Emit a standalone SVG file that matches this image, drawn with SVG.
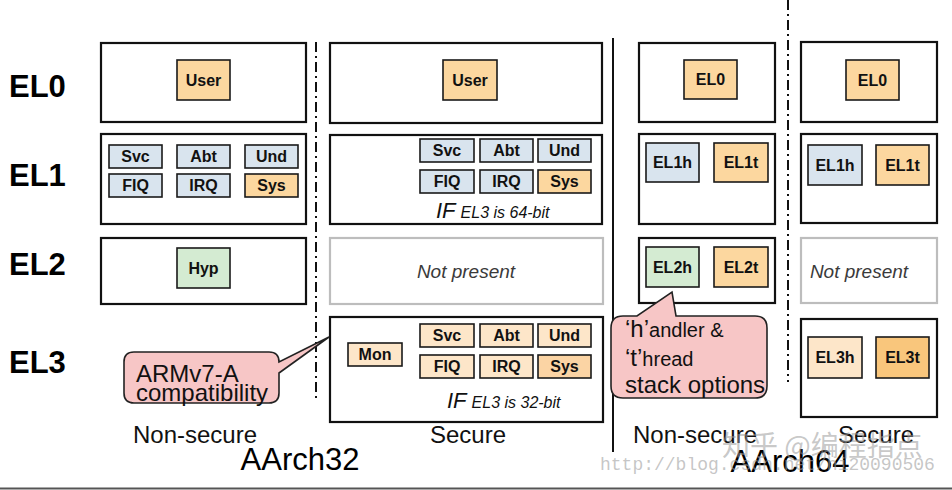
<svg xmlns="http://www.w3.org/2000/svg" width="952" height="490" viewBox="0 0 952 490">
<style>
.bg{fill:#fff}
.box{fill:#fff;stroke:#111;stroke-width:2.2}
.gbox{fill:#fff;stroke:#bdbdbd;stroke-width:2.2}
.m{stroke:#1a1a1a;stroke-width:1.6}
.or{fill:#fcd79f}
.bl{fill:#d9e4ee}
.gr{fill:#d4ebd2}
.pe{fill:#fde6c9}
.or2{fill:#f9c67c}
.lt{font-family:"Liberation Sans",Arial,sans-serif;font-weight:bold;font-size:16px;fill:#111;text-anchor:middle}
.el{font-family:"Liberation Sans",Arial,sans-serif;font-weight:bold;font-size:31px;fill:#000}
.np{font-family:"Liberation Sans",Arial,sans-serif;font-style:italic;font-size:19px;fill:#3a3a3a;text-anchor:middle}
.it{font-family:"Liberation Sans",Arial,sans-serif;font-style:italic;fill:#111}
.cap{font-family:"Liberation Sans",Arial,sans-serif;font-size:24px;fill:#111;text-anchor:middle}
.arch{font-family:"Liberation Sans",Arial,sans-serif;font-size:31px;fill:#000;text-anchor:middle}
.call{fill:#f7c6c6;stroke:#222;stroke-width:1.6}
.ct{font-family:"Liberation Sans",Arial,sans-serif;fill:#111}
.dd{stroke:#111;stroke-width:2;stroke-dasharray:10 4 2 4;fill:none}
.sl{stroke:#111;stroke-width:2;fill:none}
.wm{font-family:"Noto Sans CJK SC",sans-serif;font-size:28px;fill:#9a9a9a;fill-opacity:0.55}
.url{font-family:"Liberation Mono",monospace;font-size:18px;fill:#a0a0a0;fill-opacity:0.6}
</style>
<rect class="bg" x="0" y="0" width="952" height="490"/>

<g id="dividers">
<line class="dd" x1="316" y1="42" x2="316" y2="398"/>
<line class="sl" x1="613" y1="38" x2="613" y2="452"/>
<line class="dd" x1="788" y1="0" x2="788" y2="382"/>
<line x1="0" y1="488.5" x2="952" y2="488.5" stroke="#555" stroke-width="2"/>
</g>

<g id="level-labels">
<text class="el" x="9" y="97">EL0</text>
<text class="el" x="9" y="186">EL1</text>
<text class="el" x="9" y="275">EL2</text>
<text class="el" x="9" y="373">EL3</text>
</g>

<!-- AArch32 Non-secure -->
<g id="a32ns-el0">
<rect class="box" x="101" y="43" width="205" height="79"/>
<rect class="m or" x="177" y="60" width="53" height="40"/>
<text class="lt" x="203.5" y="86">User</text>
</g>
<g id="a32ns-el1">
<rect class="box" x="101" y="134" width="205" height="90"/>
<rect class="m bl" x="109" y="145" width="53" height="23"/>
<text class="lt" x="135.5" y="162">Svc</text>
<rect class="m bl" x="177" y="145" width="53" height="23"/>
<text class="lt" x="203.5" y="162">Abt</text>
<rect class="m bl" x="245" y="145" width="53" height="23"/>
<text class="lt" x="271.5" y="162">Und</text>
<rect class="m bl" x="109" y="174" width="53" height="23"/>
<text class="lt" x="135.5" y="191">FIQ</text>
<rect class="m bl" x="177" y="174" width="53" height="23"/>
<text class="lt" x="203.5" y="191">IRQ</text>
<rect class="m or" x="245" y="174" width="53" height="23"/>
<text class="lt" x="271.5" y="191">Sys</text>
</g>
<g id="a32ns-el2">
<rect class="box" x="101" y="238" width="205" height="66"/>
<rect class="m gr" x="177" y="248" width="53" height="40"/>
<text class="lt" x="203.5" y="274">Hyp</text>
</g>

<!-- AArch32 Secure -->
<g id="a32s-el0">
<rect class="box" x="330" y="43" width="272" height="80"/>
<rect class="m or" x="443" y="60" width="54" height="40"/>
<text class="lt" x="470" y="86">User</text>
</g>
<g id="a32s-el1">
<rect class="box" x="330" y="135" width="272" height="89"/>
<rect class="m bl" x="420" y="139" width="54" height="23"/>
<text class="lt" x="447" y="156">Svc</text>
<rect class="m bl" x="480" y="139" width="53" height="23"/>
<text class="lt" x="506.5" y="156">Abt</text>
<rect class="m bl" x="538" y="139" width="53" height="23"/>
<text class="lt" x="564.5" y="156">Und</text>
<rect class="m bl" x="420" y="170" width="54" height="23"/>
<text class="lt" x="447" y="187">FIQ</text>
<rect class="m bl" x="480" y="170" width="53" height="23"/>
<text class="lt" x="506.5" y="187">IRQ</text>
<rect class="m or" x="538" y="170" width="53" height="23"/>
<text class="lt" x="564.5" y="187">Sys</text>
<text class="it" x="436" y="218"><tspan font-size="22">IF</tspan><tspan font-size="16" dx="5">EL3 is 64-bit</tspan></text>
</g>
<g id="a32s-el2">
<rect class="gbox" x="330" y="238" width="273" height="66"/>
<text class="np" x="466" y="278">Not present</text>
</g>
<g id="a32s-el3">
<rect class="box" x="330" y="317" width="273" height="105"/>
<rect class="m pe" x="348" y="343" width="54" height="23"/>
<text class="lt" x="375" y="360">Mon</text>
<rect class="m pe" x="420" y="324" width="54" height="23"/>
<text class="lt" x="447" y="341">Svc</text>
<rect class="m pe" x="480" y="324" width="53" height="23"/>
<text class="lt" x="506.5" y="341">Abt</text>
<rect class="m pe" x="538" y="324" width="53" height="23"/>
<text class="lt" x="564.5" y="341">Und</text>
<rect class="m pe" x="420" y="355" width="54" height="23"/>
<text class="lt" x="447" y="372">FIQ</text>
<rect class="m pe" x="480" y="355" width="53" height="23"/>
<text class="lt" x="506.5" y="372">IRQ</text>
<rect class="m" fill="#fbd4a4" x="538" y="355" width="53" height="23"/>
<text class="lt" x="564.5" y="372">Sys</text>
<text class="it" x="447" y="408"><tspan font-size="22">IF</tspan><tspan font-size="16" dx="5">EL3 is 32-bit</tspan></text>
</g>

<!-- AArch64 Non-secure -->
<g id="a64ns-el0">
<rect class="box" x="639" y="43" width="136" height="79"/>
<rect class="m or" x="684" y="60" width="53" height="39"/>
<text class="lt" x="710.5" y="85">EL0</text>
</g>
<g id="a64ns-el1">
<rect class="box" x="639" y="134" width="136" height="90"/>
<rect class="m bl" x="646" y="143" width="53" height="39"/>
<text class="lt" x="672.5" y="168">EL1h</text>
<rect class="m or" x="714" y="143" width="54" height="39"/>
<text class="lt" x="741" y="168">EL1t</text>
</g>
<g id="a64ns-el2">
<rect class="box" x="639" y="238" width="136" height="65"/>
<rect class="m gr" x="646" y="247" width="53" height="40"/>
<text class="lt" x="672.5" y="273">EL2h</text>
<rect class="m or" x="714" y="247" width="54" height="40"/>
<text class="lt" x="741" y="273">EL2t</text>
</g>

<!-- AArch64 Secure -->
<g id="a64s-el0">
<rect class="box" x="801" y="42" width="136" height="80"/>
<rect class="m or" x="846" y="60" width="53" height="40"/>
<text class="lt" x="872.5" y="86">EL0</text>
</g>
<g id="a64s-el1">
<rect class="box" x="801" y="134" width="136" height="89"/>
<rect class="m bl" x="808" y="145" width="54" height="40"/>
<text class="lt" x="835" y="171">EL1h</text>
<rect class="m or" x="876" y="145" width="53" height="40"/>
<text class="lt" x="902.5" y="171">EL1t</text>
</g>
<g id="a64s-el2">
<rect class="gbox" x="801" y="238" width="136" height="65"/>
<text class="np" x="859" y="278">Not present</text>
</g>
<g id="a64s-el3">
<rect class="box" x="801" y="319" width="136" height="98"/>
<rect class="m pe" x="808" y="337" width="54" height="41"/>
<text class="lt" x="835" y="363">EL3h</text>
<rect class="m or2" x="876" y="337" width="53" height="41"/>
<text class="lt" x="902.5" y="363">EL3t</text>
</g>

<g id="callout-armv7">
<path class="call" d="M134,352 H269 Q279,352 279,362 L329,337 L279,373 V393 Q279,403 269,403 H134 Q124,403 124,393 V362 Q124,352 134,352 Z"/>
<text class="ct" x="136" y="382" font-size="24">ARMv7-A</text>
<text class="ct" x="136" y="401" font-size="24">compatibility</text>
</g>

<g id="callout-stacks">
<path class="call" d="M623,316 H637 L672,292 L676,316 H755 Q767,316 767,328 V386 Q767,398 755,398 H623 Q611,398 611,386 V328 Q611,316 623,316 Z"/>
<text class="ct" x="625" y="337"><tspan font-size="24">‘h’</tspan><tspan font-size="20">andler &amp;</tspan></text>
<text class="ct" x="625" y="366"><tspan font-size="24">‘t’</tspan><tspan font-size="20">hread</tspan></text>
<text class="ct" x="625" y="393" font-size="24">stack options</text>
</g>

<g id="captions">
<text class="cap" x="195" y="443">Non-secure</text>
<text class="cap" x="468" y="443">Secure</text>
<text class="cap" x="695" y="443">Non-secure</text>
<text class="cap" x="876" y="443">Secure</text>
<text class="arch" x="300" y="470">AArch32</text>
<text class="arch" x="790" y="472">AArch64</text>
</g>

<g id="watermark">
<text class="wm" x="722" y="456">知乎 @编程指点</text>
<text class="url" x="600" y="470">http://blog.csdn.net/hi20090506</text>
</g>
</svg>
